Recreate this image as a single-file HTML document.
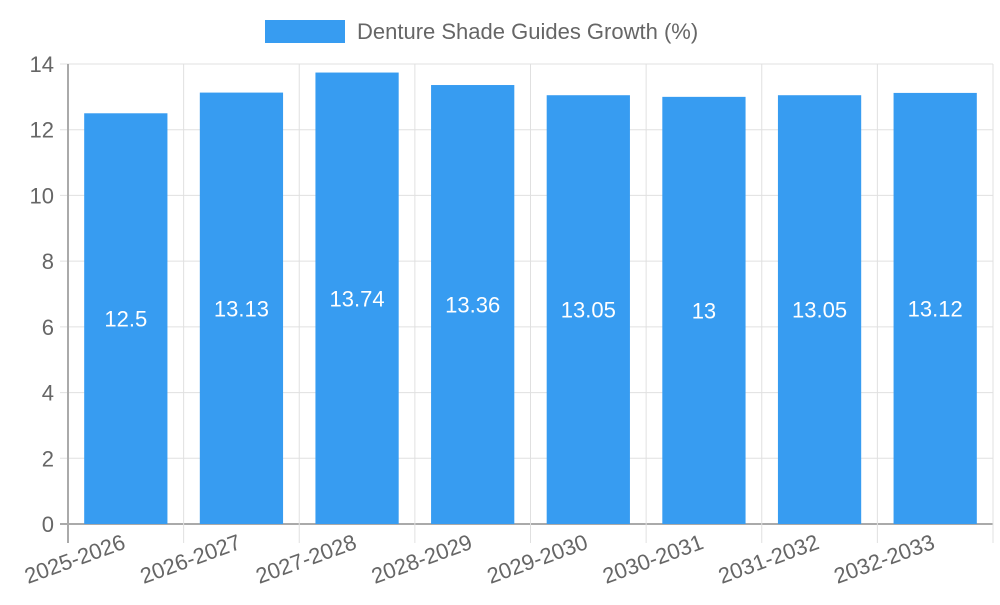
<!DOCTYPE html>
<html><head><meta charset="utf-8"><style>
body{margin:0;background:#fff;width:1000px;height:600px;overflow:hidden}
svg{font-family:"Liberation Sans",sans-serif}
</style></head><body>
<svg id="c" width="1000" height="600">
<rect x="265" y="20" width="80" height="23" fill="#379cf1"/>
<text x="357" y="39" font-size="22" fill="#666">Denture Shade Guides Growth (%)</text>
<g id="grid"></g><g id="bars"></g><g id="axes"></g>
</svg>
<script>
const categories=["2025-2026","2026-2027","2027-2028","2028-2029","2029-2030","2030-2031","2031-2032","2032-2033"];
const values=[12.5,13.13,13.74,13.36,13.05,13,13.05,13.12];
const yTicks=[0,2,4,6,8,10,12,14];
const X0=68,X1=993,Y0=524,Y1=64,YMAX=14;
const NS="http://www.w3.org/2000/svg";
const bw=(X1-X0)/categories.length;
const y=v=>Y0-(Y0-Y1)*v/YMAX;
const x=i=>X0+bw*i;
function mk(t,a,p){const e=document.createElementNS(NS,t);for(const k in a)e.setAttribute(k,a[k]);document.getElementById(p).appendChild(e);return e;}
yTicks.forEach(t=>{
 const l=mk('line',{x1:X0-8,x2:X1,y1:y(t),y2:y(t),stroke:t===0?'#aaa':'#e0e0e0','stroke-width':t===0?2:1},'grid');
 
 
 const tx=mk('text',{x:X0-14,y:y(t)+8,'text-anchor':'end','font-size':22,fill:'#666'},'axes');
 tx.textContent=t;
 
 
});
for(let i=0;i<=categories.length;i++){
 const l=mk('line',{x1:x(i),x2:x(i),y1:Y1,y2:Y0+19,stroke:i===0?'#aaa':'#e0e0e0','stroke-width':i===0?2:1},'grid');
 
 
}
categories.forEach((c,i)=>{
 const bx=x(i)+bw*0.14,w=bw*0.72;
 const r=mk('rect',{x:bx,y:y(values[i]),width:w,height:Y0-y(values[i]),fill:'#379cf1'},'bars');
 
 
 const v=mk('text',{x:x(i)+bw/2,y:(y(values[i])+Y0)/2+8,'text-anchor':'middle','font-size':22,fill:'#fff'},'bars');
 v.textContent=values[i];
 
 
 const cx=x(i)+bw/2+1,cy=Y0+24;
 const t=mk('text',{x:cx,y:cy,'text-anchor':'end','font-size':22,fill:'#666',transform:`rotate(-20 ${cx} ${cy})`},'axes');
 t.textContent=c;
 
 
});
</script>
</body></html>
